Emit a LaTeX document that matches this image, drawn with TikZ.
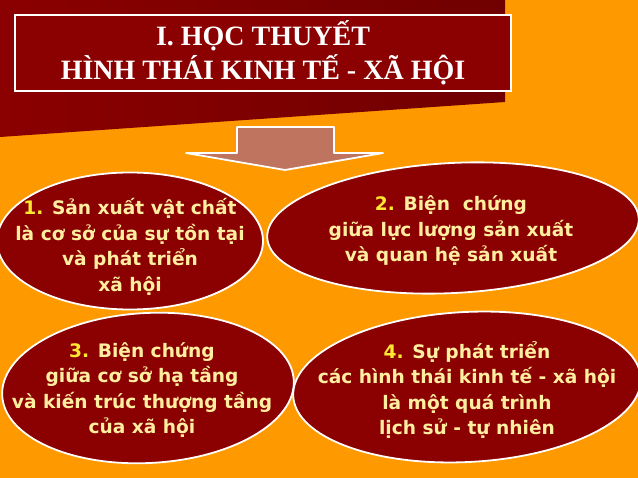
\documentclass[tikz,border=0pt]{standalone}
\usepackage{fontspec}
\setmainfont{Liberation Serif}
\newfontfamily\bodyfont{DejaVu Sans}
\usetikzlibrary{shapes.geometric}
\definecolor{bg}{RGB}{255,153,0}
\definecolor{dred}{RGB}{139,0,0}
\definecolor{dredB}{RGB}{112,0,0}
\definecolor{txt}{RGB}{255,238,160}
\definecolor{num}{RGB}{255,232,50}
\definecolor{arr}{RGB}{190,116,94}
\begin{document}
\begin{tikzpicture}[x=1pt,y=-1pt,
  bubble/.style={ellipse, draw=white, line width=1.8pt, fill=dred, inner sep=0pt},
  bubtext/.style={font=\bodyfont\bfseries\fontsize{18.6}{25.5}\selectfont, text=txt, align=center, inner sep=0pt},
  titlebox/.style={draw=white, line width=1.8pt, fill=dred, text=white, align=center,
    font=\bfseries\fontsize{28}{34}\selectfont, inner sep=0pt}
]
\useasboundingbox (0,0) rectangle (638,478);
\fill[bg] (0,0) rectangle (638,478);
\shade[left color=dred, right color=dredB] (0,0) -- (505,0) -- (505,102) -- (0,137) -- cycle;

\node[titlebox, minimum width=496, minimum height=76] (title) at (263,53)
  {I. HỌC THUYẾT\\HÌNH THÁI KINH TẾ - XÃ HỘI};

\node[bubble, minimum width=266, minimum height=137] (e1) at (130,241) {};
\node[bubble, minimum width=372, minimum height=130, rotate=3] (e2) at (453,228) {};
\node[bubble, minimum width=292, minimum height=150, rotate=3] (e3) at (148,388) {};
\node[bubble, minimum width=348, minimum height=150, rotate=3] (e4) at (467,387) {};

\node[bubtext] (t1) at (130,247) {\textcolor{num}{1.} Sản xuất vật chất\\là cơ sở của sự tồn tại\\và phát triển\\xã hội};
\node[bubtext] (t2) at (451,231) {\textcolor{num}{2.} Biện\ \ chứng\\giữa lực lượng sản xuất\\và quan hệ sản xuất};
\node[bubtext] (t3) at (142,390) {\textcolor{num}{3.} Biện chứng\\giữa cơ sở hạ tầng\\và kiến trúc thượng tầng\\của xã hội};
\node[bubtext] (t4) at (467,390) {\textcolor{num}{4.} Sự phát triển\\các hình thái kinh tế - xã hội\\là một quá trình\\lịch sử - tự nhiên};

\draw[fill=arr, draw=white, line width=1.8pt, line join=round]
  (237,127) -- (334,127) -- (334,153) -- (383,153) -- (285,170) -- (186,153) -- (237,153) -- cycle;
\end{tikzpicture}
\end{document}
